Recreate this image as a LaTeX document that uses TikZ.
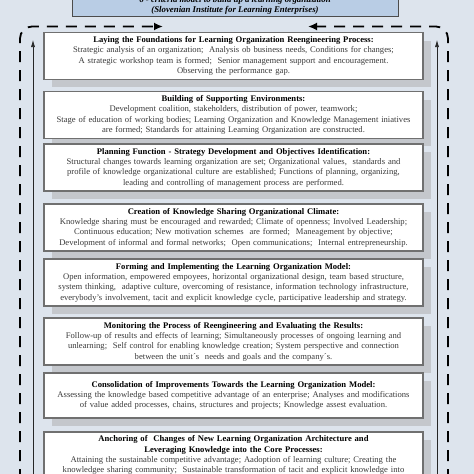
\documentclass[tikz,border=0pt]{standalone}
\usepackage{fontspec}
\setmainfont{Liberation Serif}
\usetikzlibrary{arrows.meta,shadows}

\definecolor{bgblue}{HTML}{DDE4ED}
\definecolor{headblue}{HTML}{B9CDE5}
\definecolor{shadowgray}{HTML}{C4C7CC}
\definecolor{bodytext}{HTML}{3A3A3A}
\definecolor{boxframe}{HTML}{707070}

\newcommand{\phasetitle}[1]{\textbf{\textcolor{black}{#1}}}

\tikzset{
  phasebox/.style={draw=boxframe, line width=1.6pt, fill=white,
    minimum width=379pt, text width=376pt, align=center,
    inner xsep=1pt, inner ysep=4pt, text=bodytext,
    font=\fontsize{8.6}{10.3}\selectfont,
    drop shadow={shadow xshift=8pt, shadow yshift=-8pt, fill=shadowgray, opacity=1}},
  headbox/.style={draw=black!70, line width=0.8pt, fill=headblue,
    minimum width=326pt, minimum height=21pt, align=center, inner sep=0pt,
    font=\fontsize{8.8}{10.6}\selectfont\bfseries\itshape},
  loop/.style={line width=1.8pt, dash pattern=on 11pt off 8pt,
    rounded corners=12pt, -{Latex[length=9pt,width=8pt]}},
  guide/.style={line width=0.6pt, black!85, -{Latex[length=7pt,width=4pt]}},
}

\begin{document}
\begin{tikzpicture}[x=1pt,y=-1pt]
  \clip (0,0) rectangle (474,474);
  \useasboundingbox (0,0) rectangle (474,474);
  \fill[bgblue] (0,0) rectangle (474,474);

  % model heading, cut by the top edge
  \node[headbox] (head) at (235,5.5)
    {6 - criteria model to build up a learning organization\\
     (Slovenian Institute for Learning Enterprises)};

  % dashed loop round the phases
  \coordinate (loopLbot) at (20,480);
  \coordinate (loopLend) at (163,26.5);
  \coordinate (loopRbot) at (448,480);
  \coordinate (loopRend) at (308,26.5);
  \draw[loop] (loopLbot) |- (loopLend);
  \draw[loop] (loopRbot) |- (loopRend);

  % thin arrows up the sides
  \coordinate (guideLbot) at (33,480);
  \coordinate (guideLtop) at (33,40);
  \coordinate (guideRbot) at (437,480);
  \coordinate (guideRtop) at (437,40);
  \draw[guide] (guideLbot) -- (guideLtop);
  \draw[guide] (guideRbot) -- (guideRtop);

  % the eight phases
  \node[phasebox, minimum height=46pt] (laying) at (233.5,56)
    {\phasetitle{Laying the Foundations for Learning Organization Reengineering Process:}\\
     Strategic analysis of an organization;\ \ Analysis ob business needs, Conditions for changes;\\
     A strategic workshop team is formed;\ \ Senior management support and encouragement.\\
     Observing the performance gap.};

  \node[phasebox, minimum height=46pt] (building) at (233.5,115)
    {\phasetitle{Building of Supporting Environments:}\\
     Development coalition, stakeholders, distribution of power, teamwork;\\
     Stage of education of working bodies; Learning Organization and Knowledge Management iniatives\\
     are formed; Standards for attaining Learning Organization are constructed.};

  \node[phasebox, minimum height=45pt] (planning) at (233.5,167.5)
    {\phasetitle{Planning Function - Strategy Development and Objectives Identification:}\\
     Structural changes towards learning organization are set; Organizational values,\ \ standards and\\
     profile of knowledge organizational culture are established; Functions of planning, organizing,\\
     leading and controlling of management process are performed.};

  \node[phasebox, minimum height=45pt] (creation) at (233.5,227.5)
    {\phasetitle{Creation of Knowledge Sharing Organizational Climate:}\\
     Knowledge sharing must be encouraged and rewarded; Climate of openness; Involved Leadership;\\
     Continuous education; New motivation schemes\ \ are formed;\ \ Maneagement by objective;\\
     Development of informal and formal networks;\ \ Open communications;\ \ Internal entrepreneurship.};

  \node[phasebox, minimum height=45pt] (forming) at (233.5,282.5)
    {\phasetitle{Forming and Implementing the Learning Organization Model:}\\
     Open information, empowered empoyees, horizontal organizational design, team based structure,\\
     system thinking,\ \ adaptive culture, overcoming of resistance, information technology infrastructure,\\
     everybody's involvement, tacit and explicit knowledge cycle, participative leadership and strategy.};

  \node[phasebox, minimum height=47pt] (monitoring) at (233.5,341.5)
    {\phasetitle{Monitoring the Process of Reengineering and Evaluating the Results:}\\
     Follow-up of results and effects of learning; Simultaneously processes of ongoing learning and\\
     unlearning;\ \ Self control for enabling knowledge creation; System perspective and connection\\
     between the unit´s\ \ needs and goals and the company´s.};

  \node[phasebox, minimum height=45pt] (consolidation) at (233.5,395.5)
    {\phasetitle{Consolidation of Improvements Towards the Learning Organization Model:}\\
     Assessing the knowledge based competitive advantage of an enterprise; Analyses and modifications\\
     of value added processes, chains, structures and projects; Knowledge assest evaluation.\\[4pt]};

  \node[phasebox, anchor=north] (anchoring) at (233.5,431)
    {\phasetitle{Anchoring of\ \ Changes of New Learning Organization Architecture and}\\
     \phasetitle{Leveraging Knowledge into the Core Processes:}\\
     Attaining the sustainable competitive advantage; Aadoption of learning culture; Creating the\\
     knowledgee sharing community;\ \ Sustainable transformation of tacit and explicit knowledge into};
\end{tikzpicture}
\end{document}
